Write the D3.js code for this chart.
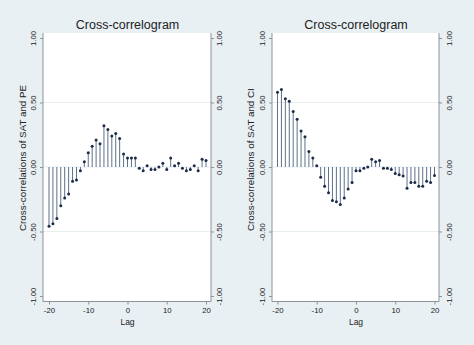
<!DOCTYPE html>
<html>
<head>
<meta charset="utf-8">
<script src="https://cdn.jsdelivr.net/npm/d3@7"></script>
<style>
  html, body { margin: 0; padding: 0; background: #e9f0f3; }
  svg { display: block; }
  text { font-family: "Liberation Sans", Arial, Helvetica, sans-serif; fill: #222; }
</style>
</head>
<body>
<svg id="chart" width="474" height="345"></svg>
<script>
// ---- data ----
const lags = d3.range(-20, 21);
const ccfSatPE = [-0.46, -0.44, -0.40, -0.30, -0.24, -0.21, -0.11, -0.10, -0.03, 0.04,
                  0.11, 0.16, 0.21, 0.18, 0.32, 0.29, 0.24, 0.26, 0.22, 0.10,
                  0.07, 0.07, 0.07, -0.01, -0.03, 0.01, -0.02, -0.02, 0.00, 0.03,
                  -0.02, 0.07, 0.01, 0.03, -0.01, -0.03, -0.02, 0.01, -0.03, 0.06, 0.05];
const ccfSatCI = [0.58, 0.60, 0.53, 0.51, 0.43, 0.37, 0.28, 0.235, 0.12, 0.07,
                  0.01, -0.08, -0.15, -0.20, -0.26, -0.27, -0.29, -0.24, -0.17, -0.12,
                  -0.03, -0.03, -0.01, 0.00, 0.06, 0.04, 0.05, -0.01, -0.01, -0.02,
                  -0.05, -0.06, -0.07, -0.165, -0.12, -0.12, -0.15, -0.15, -0.11, -0.12, -0.065];
const yTicks = [-1, -0.5, 0, 0.5, 1];
const yTickLabels = ["-1.00", "-0.50", "0.00", "0.50", "1.00"];
const xTicks = [-20, -10, 0, 10, 20];
const titleText = "Cross-correlogram";
const xTitle = "Lag";
const yTitles = ["Cross-correlations of SAT and PE", "Cross-correlations of SAT and CI"];

// ---- layout ----
const panels = [
  { values: ccfSatPE, yTitle: yTitles[0], boxL: 43, boxR: 211, xL: 49, xR: 206, yTitleX: 23, rOff: 8.5 },
  { values: ccfSatCI, yTitle: yTitles[1], boxL: 272, boxR: 439, xL: 277.5, xR: 434.5, yTitleX: 251, rOff: 10.5 }
];
const boxTop = 33, boxBot = 301.5;
const y = d3.scaleLinear().domain([-1, 1]).range([296, 38]);

const svg = d3.select("#chart");
const axisColor = "#8d9499";
const stemColor = "#5d7189";
const dotColor = "#1c2c48";

panels.forEach(p => {
  const g = svg.append("g");
  const x = d3.scaleLinear().domain([-20, 20]).range([p.xL, p.xR]);

  // plot region
  g.append("rect")
    .attr("x", p.boxL).attr("y", boxTop)
    .attr("width", p.boxR - p.boxL).attr("height", boxBot - boxTop)
    .attr("fill", "#ffffff");

  // gridlines
  g.selectAll(".grid").data([-0.5, 0, 0.5]).enter().append("line")
    .attr("x1", p.boxL).attr("x2", p.boxR)
    .attr("y1", d => y(d)).attr("y2", d => y(d))
    .attr("stroke", "#e6eef2").attr("stroke-width", 1);

  // stems
  const pts = lags.map((l, i) => ({ lag: l, v: p.values[i] }));
  g.selectAll(".stem").data(pts).enter().append("line")
    .attr("x1", d => x(d.lag)).attr("x2", d => x(d.lag))
    .attr("y1", y(0)).attr("y2", d => y(d.v))
    .attr("stroke", stemColor).attr("stroke-width", 1);
  g.selectAll(".dot").data(pts).enter().append("circle")
    .attr("cx", d => x(d.lag)).attr("cy", d => y(d.v))
    .attr("r", 1.5).attr("fill", dotColor);

  // left axis
  const la = g.append("g").attr("transform", `translate(${p.boxL},0)`)
    .call(d3.axisLeft(y).tickValues(yTicks).tickSize(3).tickFormat((d, i) => yTickLabels[i]));
  la.select(".domain").attr("d", `M0,${boxTop}V${boxBot}`).attr("stroke", axisColor);
  la.selectAll(".tick line").attr("stroke", axisColor);
  la.selectAll(".tick text")
    .attr("x", null).attr("dy", "0.35em").attr("text-anchor", "middle")
    .attr("transform", "translate(-9.5,0) rotate(-90)")
    .style("font-size", "7.8px").style("font-family", "Liberation Sans, Arial, sans-serif").attr("fill", "#222");

  // right axis
  const ra = g.append("g").attr("transform", `translate(${p.boxR},0)`)
    .call(d3.axisRight(y).tickValues(yTicks).tickSize(3).tickFormat((d, i) => yTickLabels[i]));
  ra.select(".domain").attr("d", `M0,${boxTop}V${boxBot}`).attr("stroke", axisColor);
  ra.selectAll(".tick line").attr("stroke", axisColor);
  ra.selectAll(".tick text")
    .attr("x", null).attr("dy", "0.35em").attr("text-anchor", "middle")
    .attr("transform", `translate(${p.rOff},0) rotate(-90)`)
    .style("font-size", "7.8px").style("font-family", "Liberation Sans, Arial, sans-serif").attr("fill", "#222");

  // bottom axis
  const ba = g.append("g").attr("transform", `translate(0,${boxBot})`)
    .call(d3.axisBottom(x).tickValues(xTicks).tickSize(3).tickFormat(d => String(d)));
  ba.select(".domain").attr("d", `M${p.boxL},0H${p.boxR}`).attr("stroke", axisColor);
  ba.selectAll(".tick line").attr("stroke", axisColor);
  ba.selectAll(".tick text").attr("y", 6)
    .style("font-size", "7.8px").style("font-family", "Liberation Sans, Arial, sans-serif").attr("fill", "#222");

  // titles
  const cx = x(0);
  g.append("text").attr("x", cx).attr("y", 29).attr("text-anchor", "middle")
    .style("font-size", "12.5px").text(titleText);
  g.append("text").attr("x", cx).attr("y", 325).attr("text-anchor", "middle")
    .style("font-size", "8.5px").text(xTitle);
  g.append("text")
    .attr("transform", `translate(${p.yTitleX},231) rotate(-90)`)
    .attr("dy", "0.35em").attr("text-anchor", "start")
    .style("font-size", "9.8px").text(p.yTitle);
});
</script>
</body>
</html>
